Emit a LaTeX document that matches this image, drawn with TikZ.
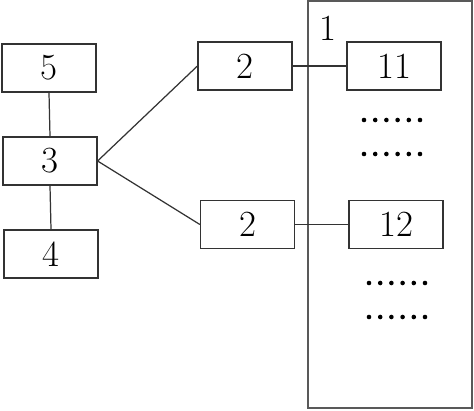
\documentclass[tikz,border=0pt]{standalone}
\usetikzlibrary{positioning,calc}

\begin{document}
\begin{tikzpicture}[
x=0.02cm, y=-0.02cm,
blk/.style={draw=black!80, line width=0.7pt, rectangle, minimum width=1.88cm,
              minimum height=0.96cm, inner sep=0pt, font=\fontsize{21}{25}\selectfont},
lnk/.style={line width=0.7pt, draw=black!80},
dotrow/.style={fill=black},
]
\useasboundingbox (0,0) rectangle (474,410);
% outer unit
\node[draw=black!65, line width=1.1pt, minimum width=3.28cm, minimum height=8.14cm,
      inner sep=0pt] (one) at (390,204.5) {};
\node[font=\fontsize{21}{25}\selectfont, anchor=center] (onelbl) at (328,28) {1};
% left column
\node[blk] (five) at (49,68) {5};
\node[blk] (three) at (50,161) {3};
\node[blk] (four) at (51,254) {4};
% middle
\node[blk] (twoa) at (245,66) {2};
\node[blk] (twob) at (247.5,224.5) {2};
% inside 1
\node[blk] (eleven) at (394,66) {11};
\node[blk] (twelve) at (396,224.5) {12};
\foreach \yy in {120,154} {
  \foreach \i in {0,...,5}
    \fill[dotrow] (364+\i*11.2,\yy) circle (2.3);
}
\foreach \yy in {283,317} {
  \foreach \i in {0,...,5}
    \fill[dotrow] (369+\i*11.2,\yy) circle (2.3);
}
\draw[lnk] (five.south) -- (three.north);
\draw[lnk] (three.south) -- (four.north);
\draw[lnk] (three.east) -- (twoa.west);
\draw[lnk] (three.east) -- (twob.west);
\draw[lnk] (twoa.east) -- (eleven.west);
\draw[lnk] (twob.east) -- (twelve.west);
\end{tikzpicture}
\end{document}
